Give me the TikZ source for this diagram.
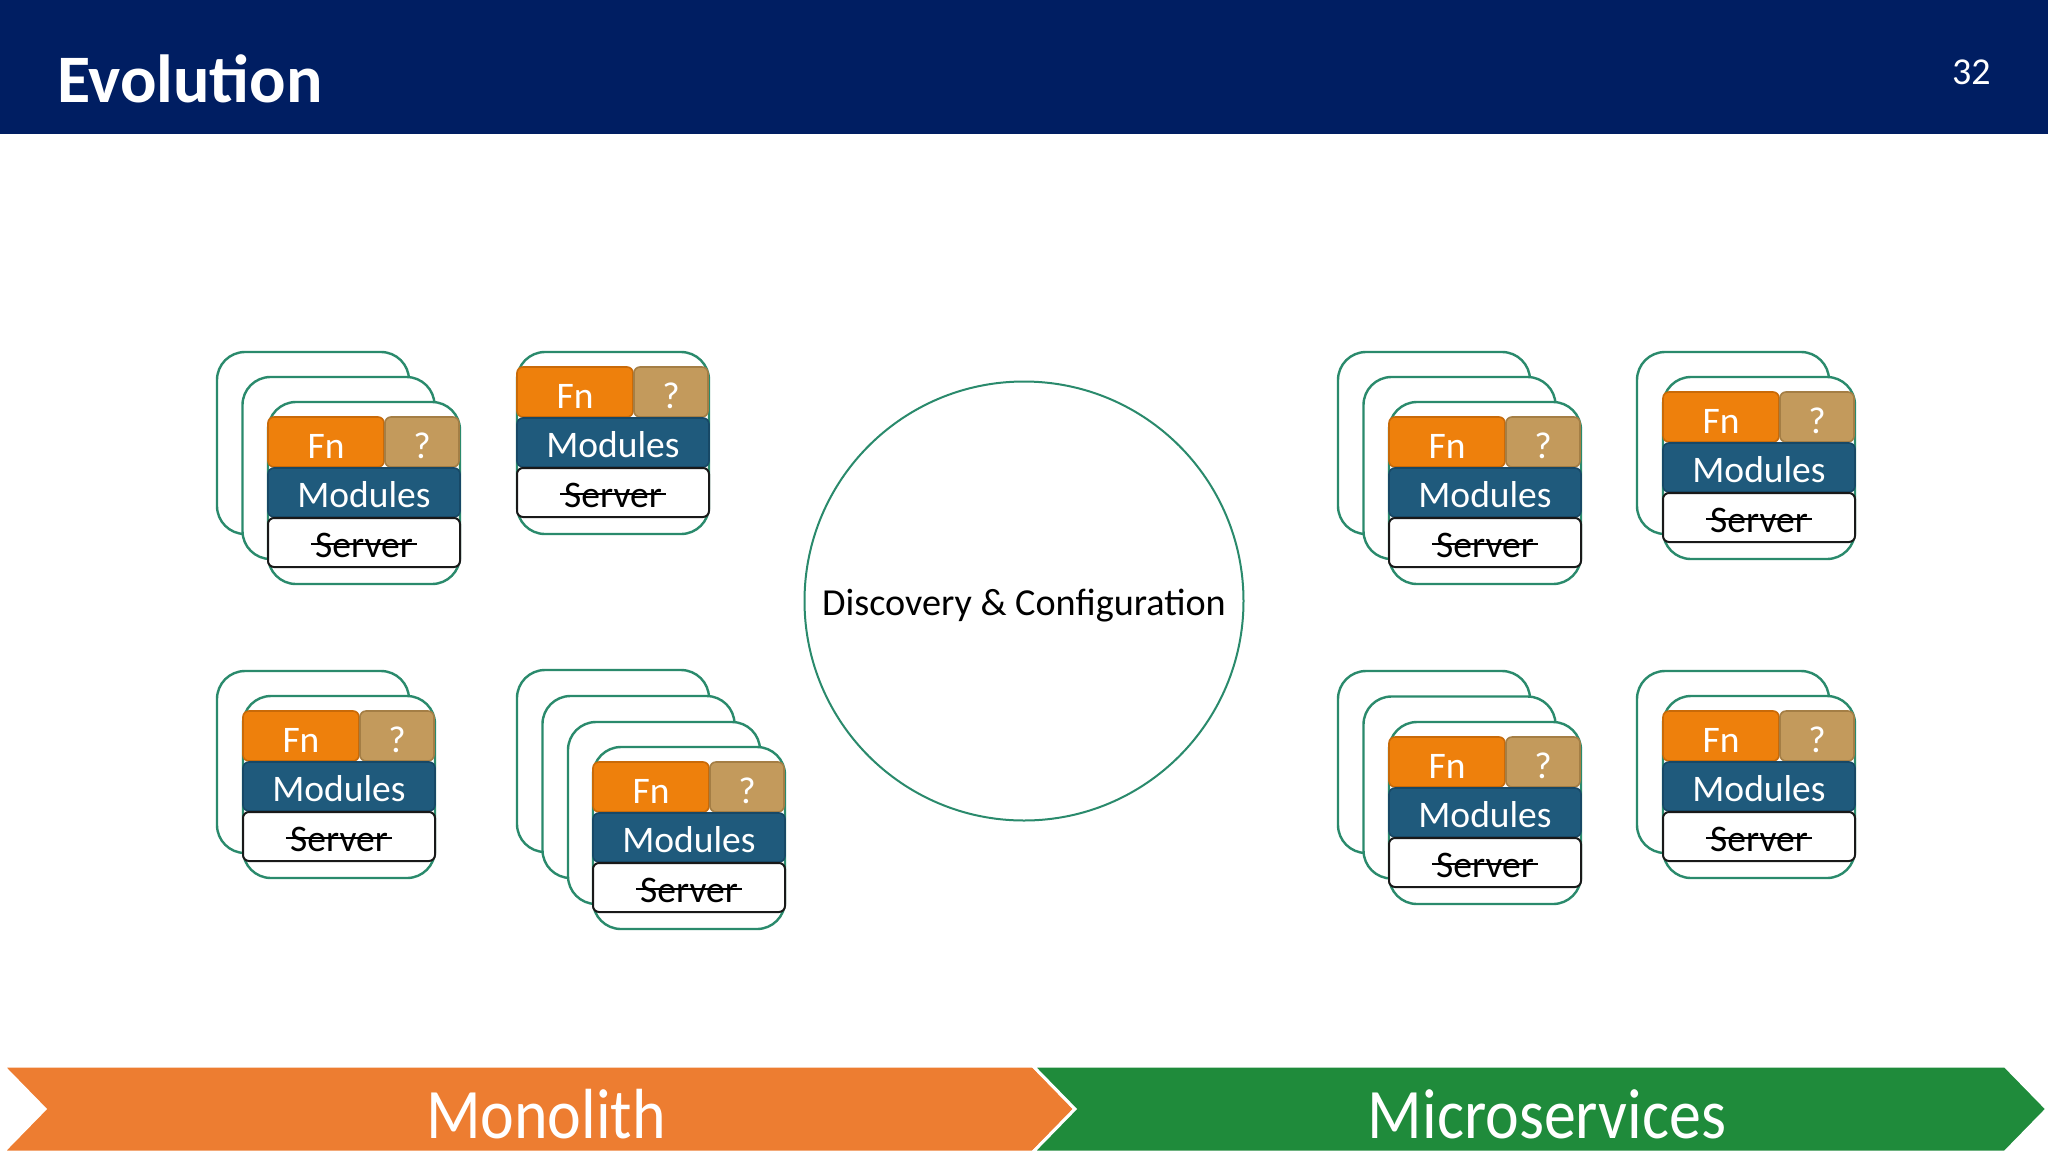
\documentclass[tikz,border=0pt]{standalone}
\usepackage{fontspec}
\setmainfont{Carlito}
\definecolor{hdr}{HTML}{001E62}
\definecolor{bandorange}{HTML}{ED7D31}
\definecolor{bandgreen}{HTML}{1F8B3B}
\definecolor{cardgreen}{HTML}{2A8A6C}
\definecolor{fnorange}{HTML}{EE800C}
\definecolor{fnedge}{HTML}{C96A08}
\definecolor{qtan}{HTML}{C39A5C}
\definecolor{qedge}{HTML}{A47E45}
\definecolor{modblue}{HTML}{1F5A7C}
\definecolor{modedge}{HTML}{174866}
\tikzset{
  card/.style={draw=cardgreen, fill=white, line width=2.4pt, rounded corners=28pt,
    minimum width=192pt, minimum height=182pt, inner sep=0pt},
  layerbox/.style={rounded corners=6pt, line width=1.6pt, inner sep=0pt},
  fnbox/.style={layerbox, draw=fnedge, fill=fnorange, minimum width=116pt, minimum height=50pt},
  qbox/.style={layerbox, draw=qedge, fill=qtan, minimum width=74pt, minimum height=50pt},
  modbox/.style={layerbox, draw=modedge, fill=modblue, minimum width=192pt, minimum height=49pt},
  srvbox/.style={layerbox, draw=black!90, fill=white, line width=2pt, minimum width=192pt, minimum height=49pt},
  boxtext/.style={anchor=base, inner sep=0pt, font=\fontsize{37.5}{44}\selectfont},
  whitetext/.style={boxtext, text=white},
  strikeline/.style={line width=2.8pt, black, shorten <=-4pt, shorten >=-4pt},
  band/.style={draw=white, line width=3pt},
  bandtext/.style={anchor=base, inner sep=0pt, text=white, font=\fontsize{71}{80}\selectfont}
}
\newcommand{\backcard}[3]{\node[card] (#1) at (#2+96,#3+91) {};}
\newcommand{\frontcard}[3]{%
  \node[card] (#1) at (#2+96,#3+91) {};
  \node[fnbox] (#1-fn) at (#2+58,#3+40) {};
  \node[qbox] (#1-q) at (#2+154,#3+40) {};
  \node[modbox] (#1-mod) at (#2+96,#3+90.5) {};
  \node[srvbox] (#1-srv) at (#2+96,#3+140.5) {};
  \node[whitetext] (#1-fnt) at (#2+58,#3+56) {Fn};
  \node[whitetext] (#1-qt) at (#2+154,#3+56) {?};
  \node[whitetext] (#1-modt) at (#2+96,#3+105) {Modules};
  \node[boxtext] (#1-srvt) at (#2+96,#3+155) {Server};
  \draw[strikeline] ([yshift=13pt]#1-srvt.base west) -- ([yshift=13pt]#1-srvt.base east);
}
\begin{document}
\begin{tikzpicture}[x=1pt,y=-1pt]
\useasboundingbox (0,0) rectangle (2048,1152);
\fill[white] (0,0) rectangle (2048,1152);
% header
\fill[hdr] (0,0) rectangle (2048,134);
\node[anchor=base west, inner sep=0pt, text=white, font=\fontsize{68}{80}\selectfont\bfseries] (title) at (57,102) {Evolution};
\node[anchor=base west, inner sep=0pt, text=white, font=\fontsize{38}{46}\selectfont] (pagenum) at (1952,84) {32};
% stack A
\backcard{a1}{217}{352}
\backcard{a2}{242.5}{377}
\frontcard{a3}{268}{402}
% stack B
\frontcard{b1}{517}{352}
% stack C
\backcard{c1}{217}{671}
\frontcard{c2}{243}{696}
% stack D
\backcard{d1}{517}{670}
\backcard{d2}{542.5}{696}
\backcard{d3}{568}{722}
\frontcard{d4}{593}{747}
% stack E
\backcard{e1}{1338}{352}
\backcard{e2}{1363.5}{377}
\frontcard{e3}{1389}{402}
% stack F
\backcard{f1}{1637}{352}
\frontcard{f2}{1663}{377}
% stack G
\backcard{g1}{1338}{671}
\backcard{g2}{1363.5}{696.5}
\frontcard{g3}{1389}{722}
% stack H
\backcard{h1}{1637}{671}
\frontcard{h2}{1663}{696}
% discovery circle
\node[circle, draw=cardgreen, line width=2pt, minimum size=439pt, inner sep=0pt] (dc) at (1024,601) {};
\node[boxtext, font=\fontsize{38.2}{44}\selectfont] (dct) at (1024,615) {Discovery \& Configuration};
% bottom bands
\path[band, fill=bandorange] (3,1066) -- (1033,1066) -- (1075,1109) -- (1033,1152) -- (3,1152) -- (45,1109) -- cycle;
\path[band, fill=bandgreen] (1033,1066) -- (2005,1066) -- (2047,1109) -- (2005,1152) -- (1033,1152) -- (1075,1109) -- cycle;
\node[bandtext] (mono) at (546,1138) {\scalebox{0.9}[1]{Monolith}};
\node[bandtext] (micro) at (1547,1138) {\scalebox{0.9}[1]{Microservices}};
\end{tikzpicture}
\end{document}
